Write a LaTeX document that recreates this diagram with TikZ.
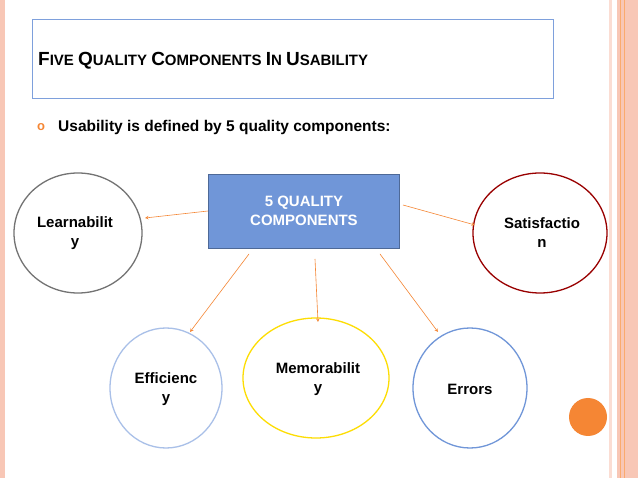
\documentclass[tikz,border=0pt]{standalone}
\usepackage{fontspec}
\setmainfont{Liberation Sans}
\definecolor{pinkb}{HTML}{F8C7B6}
\definecolor{orng}{HTML}{F58634}
\definecolor{boxb}{HTML}{7096D8}
\newcommand{\bigc}{\fontsize{19}{22}\selectfont}
\newcommand{\smc}{\fontsize{15}{18}\selectfont}
\begin{document}
\begin{tikzpicture}[x=1pt,y=-1pt,
  lbl/.style={font=\bfseries\fontsize{15}{19}\selectfont,align=center},
  ell/.style={draw,line width=1.3pt},
  arr/.style={draw=orng,line width=0.6pt,-stealth}]
\useasboundingbox (0,0) rectangle (638,478);
\fill[white] (0,0) rectangle (638,478);
\fill[pinkb] (0,0) rectangle (5,478);
\fill[pinkb!60] (609,0) rectangle (612,478);
\fill[pinkb] (617,0) rectangle (638,478);
\draw[pinkb!60!orange,line width=0.6pt] (620,0) -- (620,478);
\draw[pinkb!60!orange,line width=0.6pt] (624,0) -- (624,478);
\node[draw=boxb!90,line width=1pt,minimum width=521pt,minimum height=79pt,anchor=north west] (title) at (32,19) {};
\node[anchor=west,font=\bfseries,inner sep=0pt] (tt) at (38,61) {\bigc F\smc IVE \bigc Q\smc UALITY \bigc C\smc OMPONENTS \bigc I\smc N \bigc U\smc SABILITY};
\node[text=orng,font=\bfseries\fontsize{13}{14}\selectfont] (bul) at (41,127) {o};
\node[anchor=west,font=\bfseries\fontsize{15.5}{18}\selectfont,inner sep=0pt] (bt) at (58,127) {Usability is defined by 5 quality components:};
\node[draw=boxb!70!black,fill=boxb,line width=0.8pt,minimum width=191pt,minimum height=74pt,anchor=north west,inner sep=0pt] (c) at (208,174) {};
\node[lbl,text=white] (ct) at (304,211) {5 QUALITY\\COMPONENTS};
\draw[ell,draw=black!55] (78,233) ellipse [x radius=64,y radius=60];
\node[lbl] (l) at (75,233) {Learnabilit\\y};
\draw[ell,draw=red!60!black] (540,233) ellipse [x radius=67,y radius=60];
\node[lbl] (s) at (542,233) {Satisfactio\\n};
\draw[ell,draw=boxb!60!white] (166,388) ellipse [x radius=56,y radius=60];
\node[lbl] (e) at (166,389) {Efficienc\\y};
\draw[ell,draw=yellow!80!orange] (316,378) ellipse [x radius=73,y radius=60];
\node[lbl] (m) at (318,379) {Memorabilit\\y};
\draw[ell,draw=boxb] (470,388) ellipse [x radius=57,y radius=60];
\node[lbl] (er) at (470,389) {Errors};
\coordinate (a1) at (208,211); \coordinate (b1) at (145,218);
\coordinate (a2) at (403,205); \coordinate (b2) at (475,225);
\coordinate (a3) at (249,254); \coordinate (b3) at (190,332);
\coordinate (a4) at (315,259); \coordinate (b4) at (318,322);
\coordinate (a5) at (380,254); \coordinate (b5) at (438,332);
\draw[arr] (a1) -- (b1);
\draw[arr] (a2) -- (b2);
\draw[arr] (a3) -- (b3);
\draw[arr] (a4) -- (b4);
\draw[arr] (a5) -- (b5);
\fill[orng] (588,417) circle (19);
\end{tikzpicture}
\end{document}
